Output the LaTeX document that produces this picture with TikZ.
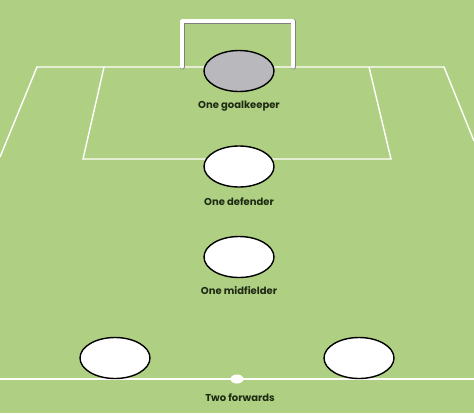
\documentclass[tikz,border=0pt]{standalone}
\usepackage{fontspec}
\setmainfont{Poppins}
\usepackage{tikz}
\usetikzlibrary{shapes.geometric}

\definecolor{pitch}{HTML}{AFD082}
\definecolor{keeper}{HTML}{B9B9BD}
\definecolor{labeltext}{HTML}{1E2A14}

\tikzset{
	player/.style={ellipse, draw=black, line width=1.4pt, fill=white, minimum width=70pt, minimum height=41pt, inner sep=0pt},
	role/.style={font=\fontsize{10}{12}\selectfont\bfseries, text=labeltext},
	pitchline/.style={draw=white, line width=1.4pt}
}

\begin{document}
\begin{tikzpicture}[x=1pt, y=-1pt]
	\fill[pitch] (0,0) rectangle (474,413);
	\useasboundingbox (0,0) rectangle (474,413);
	
	\coordinate (outerL) at (37,67);
	\coordinate (outerR) at (444,67);
	\coordinate (outerLB) at (0,157);
	\coordinate (outerRB) at (474,141);
	\coordinate (boxTL) at (104,67);
	\coordinate (boxTR) at (369,67);
	\coordinate (boxBL) at (83,159);
	\coordinate (boxBR) at (391,159);
	\coordinate (halfL) at (0,379);
	\coordinate (halfR) at (474,379);
	
	\draw[pitchline] (outerLB) -- (outerL) -- (outerR) -- (outerRB);
	\draw[pitchline] (boxTL) -- (boxBL) -- (boxBR) -- (boxTR);
	\draw[pitchline] (halfL) -- (halfR);
	\fill[white] (237,379) ellipse (6.5pt and 4.5pt);
	
	\draw[gray, line width=5pt, line cap=round, line join=round] (182,67) -- (182,21) -- (293,21) -- (293,67);
	\draw[white, line width=3.2pt, line cap=round, line join=round] (182,67) -- (182,21) -- (293,21) -- (293,67);
	
	\node[player, fill=keeper] (gk) at (239,71) {};
	\node[role] (gklabel) at (239,106) {One goalkeeper};
	
	\node[player] (def) at (239,166.5) {};
	\node[role] (deflabel) at (239,202) {One defender};
	
	\node[player] (mid) at (239,257) {};
	\node[role] (midlabel) at (239,291) {One midfielder};
	
	\node[player] (fwdL) at (115,358) {};
	\node[player] (fwdR) at (359,358) {};
	\node[role] (fwdlabel) at (240,398) {Two forwards};
\end{tikzpicture}
\end{document}
